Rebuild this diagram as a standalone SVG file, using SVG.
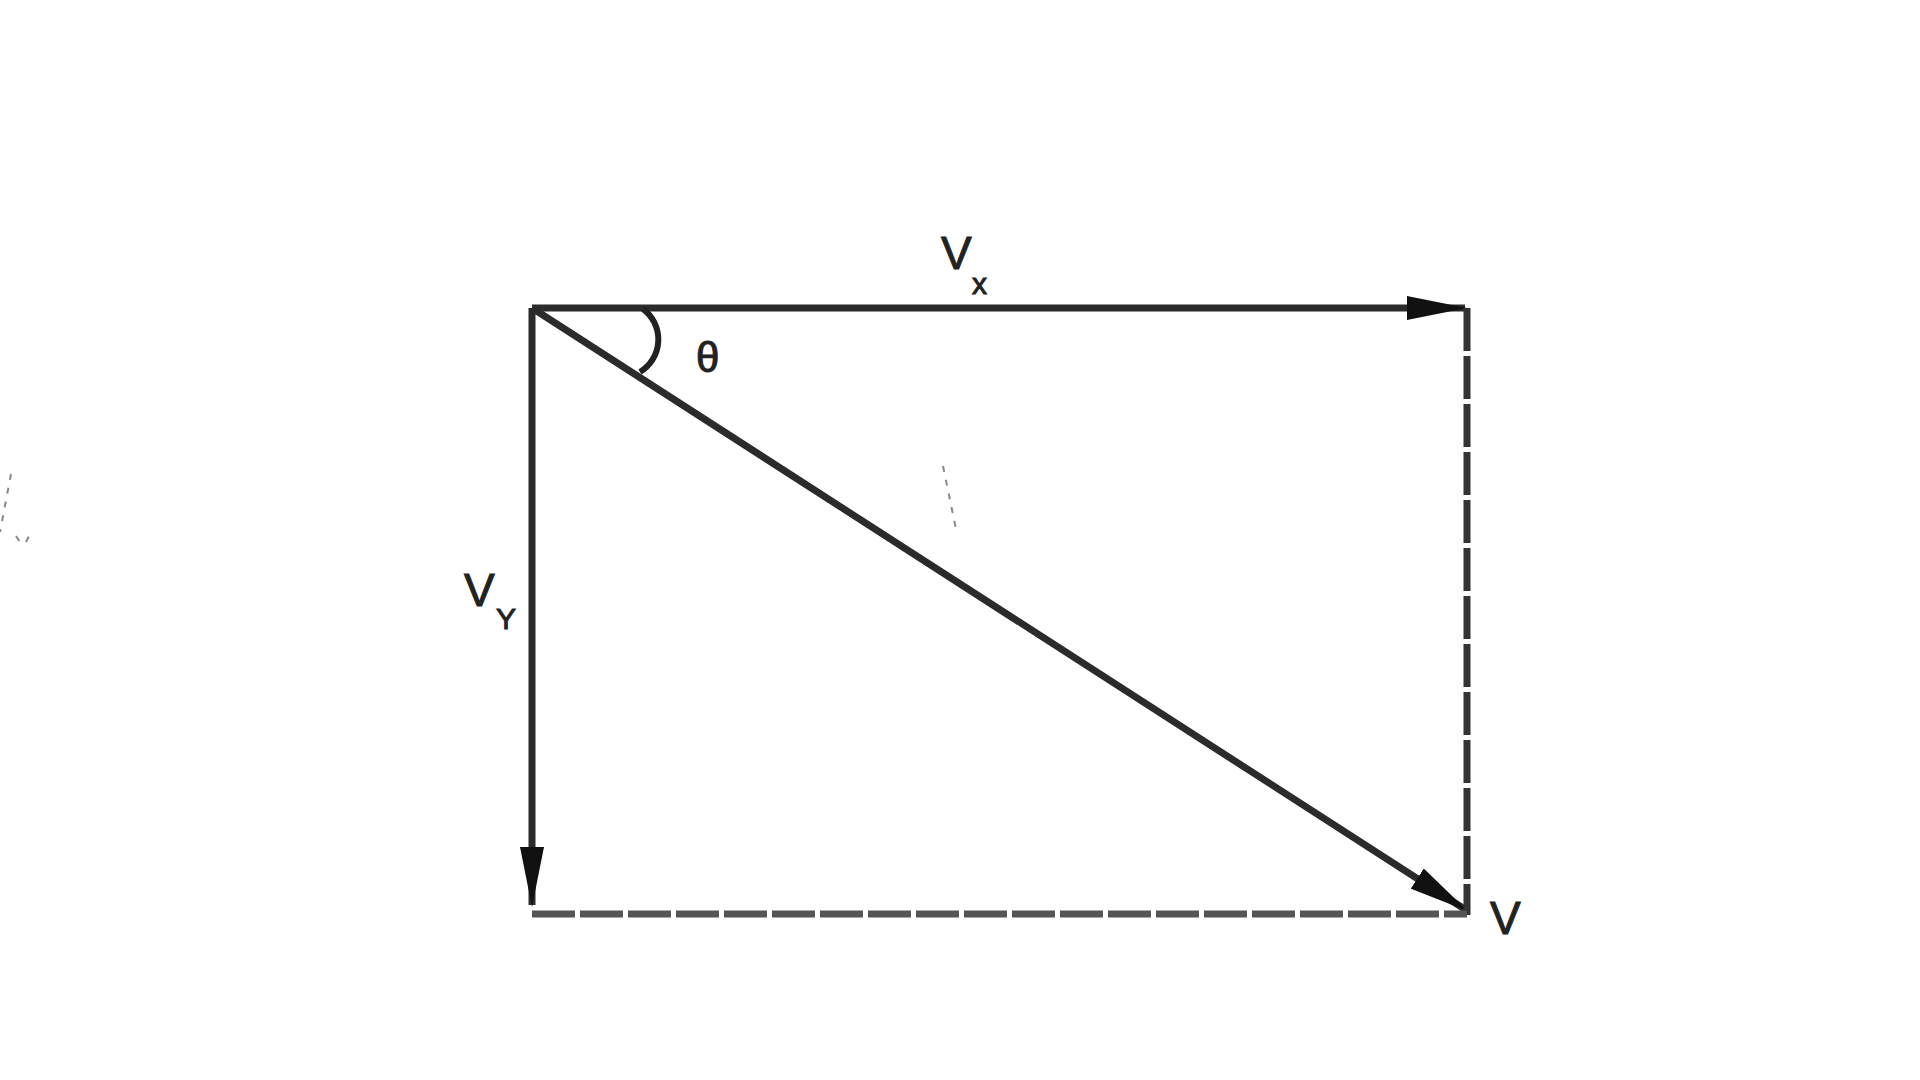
<svg xmlns="http://www.w3.org/2000/svg" width="1920" height="1080" viewBox="0 0 1920 1080">
<style>
.vec{stroke:#2b2b2b;stroke-width:7;fill:none}
.dash{stroke-width:7;fill:none;stroke-dasharray:43 5}
.lbl{font-family:"Liberation Sans",Arial,sans-serif;fill:#222;stroke:#222;stroke-width:1}
.main{font-size:46px}
.sub{font-size:30px}
.stray{stroke:#888;stroke-width:2;fill:none;stroke-dasharray:6 8}
</style>
<defs>
<marker id="ah" markerUnits="userSpaceOnUse" viewBox="0 0 60 24" refX="58" refY="12" markerWidth="60" markerHeight="24" orient="auto">
<path d="M0,0 L60,12 L0,24 Z" fill="#111"/>
</marker>
</defs>
<rect width="1920" height="1080" fill="#fff"/>
<g id="connectors">
<line id="vx" class="vec" x1="532" y1="308" x2="1465" y2="308" marker-end="url(#ah)"/>
<line id="vy" class="vec" x1="532" y1="308" x2="532" y2="905" marker-end="url(#ah)"/>
<line id="v" class="vec" x1="532" y1="308" x2="1466" y2="910" marker-end="url(#ah)"/>
<line id="dash-right" class="dash" stroke="#333" x1="1467" y1="308" x2="1467" y2="915"/>
<line id="dash-bottom" class="dash" stroke="#555" x1="532" y1="914" x2="1467" y2="914"/>
<path id="angle-arc" d="M643,309 A38,38 0 0 1 640,372" stroke="#222" stroke-width="6" fill="none"/>
</g>
<g id="label-vx"><text class="lbl main" x="941" y="269">V</text><text class="lbl sub" x="972" y="294">x</text></g>
<g id="label-vy"><text class="lbl main" x="464" y="606">V</text><text class="lbl sub" x="496" y="629">Y</text></g>
<g id="label-v"><text class="lbl main" x="1490" y="934">V</text></g>
<g id="label-theta"><text class="lbl" style="font-size:42px" x="696" y="372">θ</text></g>
<g id="artifacts">
<line class="stray" x1="11" y1="474" x2="0" y2="532"/>
<line class="stray" x1="16" y1="536" x2="20" y2="542"/>
<line class="stray" x1="26" y1="542" x2="29" y2="536"/>
<line class="stray" x1="943" y1="466" x2="957" y2="534"/>
</g>
</svg>
